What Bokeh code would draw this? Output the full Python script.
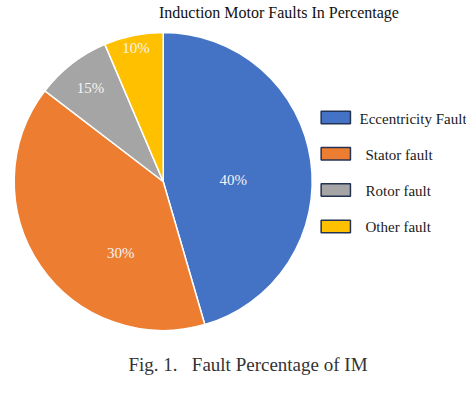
import numpy as np
from bokeh.plotting import figure
from bokeh.models import Range1d, ColumnDataSource
from bokeh.core.properties import value
from bokeh.embed import file_html
from bokeh.resources import INLINE

# ---- data ----
title_text = "Induction Motor Faults In Percentage"
caption_text = "Fig. 1.\u00a0\u00a0 Fault Percentage of IM"
categories = ["Eccentricity Fault", "Stator fault", "Rotor fault", "Other fault"]
shares = [45.5, 39.9, 8.2, 6.4]          # slice sizes as drawn in the picture
pct_labels = ["40%", "30%", "15%", "10%"]  # labels as printed
colors = ["#4472C4", "#ED7D31", "#A5A5A5", "#FFC000"]

# ---- layout ----
label_nudge = [6.5, -24.7, 0.0, 0.0]      # degrees
label_rfrac = [0.47, 0.556, 0.797, 0.912]
FONT = value("'Liberation Serif', 'Times New Roman', serif")

W, H = 466, 389


def sy(y):
    return H - y


CX, CY, R = 162.7, sy(181), 149.0

p = figure(width=W, height=H, x_range=Range1d(0, W), y_range=Range1d(0, H),
           output_backend="svg", toolbar_location=None, min_border=0,
           x_axis_location=None, y_axis_location=None)
p.grid.visible = False
p.outline_line_color = None
p.background_fill_color = "white"
p.border_fill_color = "white"

frac = np.array(shares) / sum(shares)
cum = np.concatenate([[0.0], np.cumsum(frac)])
start = np.pi / 2 - cum[:-1] * 2 * np.pi
end = np.pi / 2 - cum[1:] * 2 * np.pi
src = ColumnDataSource(dict(start=start, end=end, color=colors))
p.wedge(x=CX, y=CY, radius=R, start_angle="start", end_angle="end", direction="clock",
        fill_color="color", line_color="white", line_width=1.5, source=src)

mid = (cum[:-1] + cum[1:]) / 2 * 360 + np.array(label_nudge)
th = np.deg2rad(mid)
lx = CX + np.array(label_rfrac) * R * np.sin(th)
ly = CY + np.array(label_rfrac) * R * np.cos(th)
p.text(x=lx, y=ly, text=pct_labels, text_align="center", text_baseline="middle",
       text_font=FONT, text_font_size="15px", text_color="#f4f4f4")

# legend
n = len(categories)
rows_y = [sy(117 + 36.3 * i) for i in range(n)]
text_x = [359] + [365] * (n - 1)
p.rect(x=[335.3] * n, y=rows_y, width=29.3, height=12.5, fill_color=colors,
       line_color="#243352", line_width=1.5)
p.text(x=text_x, y=[y - 1 for y in rows_y], text=categories, text_align="left",
       text_baseline="middle", text_font=FONT, text_font_size="15px", text_color="#1a1a1a")

# title and caption
p.text(x=[278.5], y=[sy(11.5)], text=[title_text], text_align="center", text_baseline="alphabetic",
       text_font=FONT, text_font_size="16px", text_color="#111111")
p.text(x=[247.5], y=[sy(364.3)], text=[caption_text], text_align="center",
       text_baseline="alphabetic", text_font=FONT, text_font_size="19px", text_color="#333333")

open("out.html", "w").write(file_html(p, INLINE))
